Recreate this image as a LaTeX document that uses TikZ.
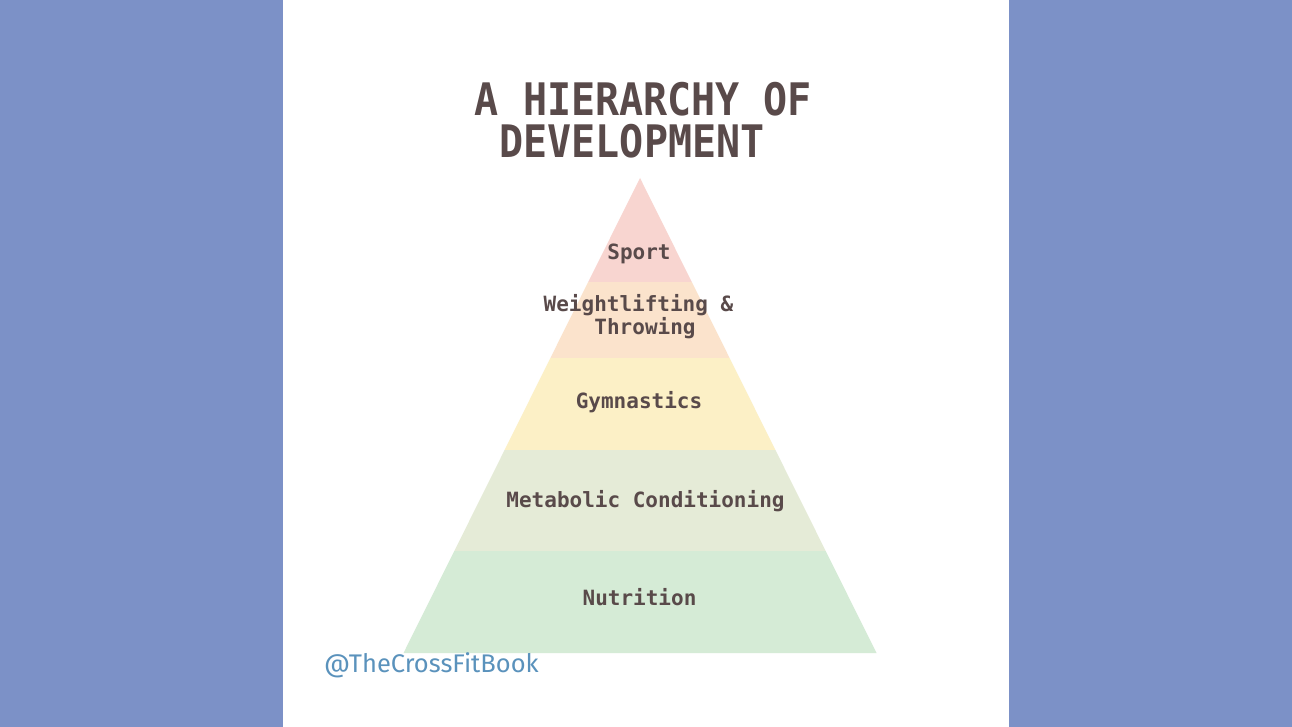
\documentclass[tikz,border=0pt]{standalone}
\usepackage{fontspec}
\newfontfamily\monob{DejaVu Sans Mono}[BoldFont={DejaVu Sans Mono Bold}]
\newfontfamily\handlefont{Fira Sans}
\definecolor{bgblue}{HTML}{7C91C7}
\definecolor{txt}{HTML}{594A4A}
\definecolor{cSport}{HTML}{F8D5D0}
\definecolor{cWeight}{HTML}{FBE3CC}
\definecolor{cGym}{HTML}{FCF0C6}
\definecolor{cMet}{HTML}{E5EBD7}
\definecolor{cNut}{HTML}{D5EBD6}
\definecolor{handle}{HTML}{5A92BC}
\tikzset{
  titletext/.style={text=txt, font=\monob\bfseries\fontsize{40}{40}\selectfont, inner sep=0pt, anchor=base, yscale=1.12, transform shape},
  layertext/.style={text=txt, font=\monob\bfseries\fontsize{21}{23}\selectfont, inner sep=0pt, anchor=base},
  layer/.style={draw=none}
}
\begin{document}
\begin{tikzpicture}[x=1pt,y=-1pt]
\useasboundingbox (0,0) rectangle (1292,727);
\fill[bgblue] (0,0) rectangle (1292,727);
\fill[white] (283,0) rectangle (1009,727);
% pyramid layers
\fill[layer,cSport] (640,178) -- (691.8,282) -- (588.2,282) -- cycle;
\fill[layer,cWeight] (588.2,282) -- (691.8,282) -- (729.6,358) -- (550.4,358) -- cycle;
\fill[layer,cGym] (550.4,358) -- (729.6,358) -- (775.4,450) -- (504.6,450) -- cycle;
\fill[layer,cMet] (504.6,450) -- (775.4,450) -- (825.7,551) -- (454.3,551) -- cycle;
\fill[layer,cNut] (454.3,551) -- (825.7,551) -- (876.5,653) -- (403.5,653) -- cycle;
% title
\node[titletext] (t1) at (643.5,116) {A HIERARCHY OF};
\node[titletext] (t2) at (632,158) {DEVELOPMENT};
% labels
\node[layertext] (sport) at (639,259) {Sport};
\node[layertext] (wl1) at (638.5,311) {Weightlifting \&};
\node[layertext] (wl2) at (645,334) {Throwing};
\node[layertext] (gym) at (639,408) {Gymnastics};
\node[layertext] (met) at (645.5,507) {Metabolic Conditioning};
\node[layertext] (nut) at (639.5,605) {Nutrition};
% handle
\node[text=handle, font=\handlefont\fontsize{25.5}{25.5}\selectfont, inner sep=0pt, anchor=base west] (hdl) at (324,672) {@TheCrossFitBook};
\end{tikzpicture}
\end{document}
